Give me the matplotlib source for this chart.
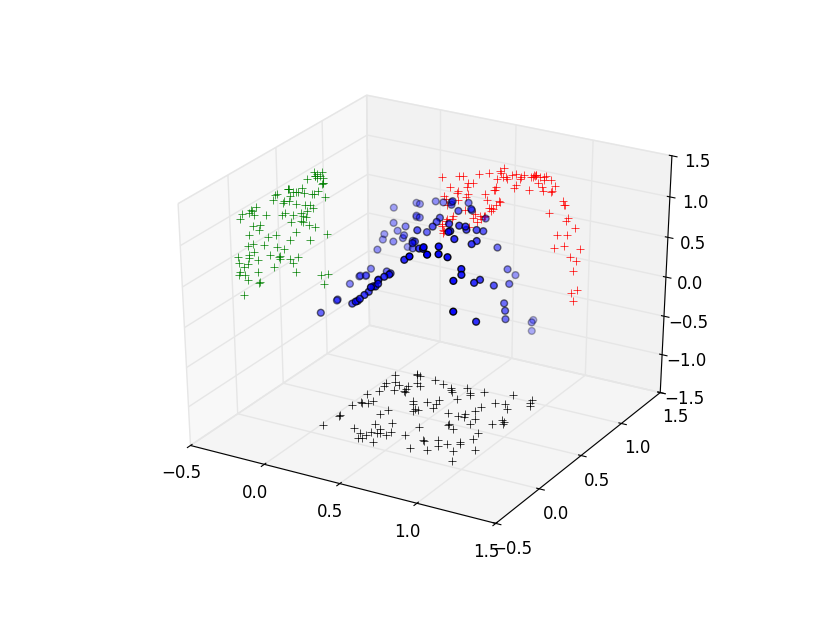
# dome shaped point cloud with its shadows on the three walls
import matplotlib
matplotlib.use("Agg")
import matplotlib.pyplot as plt
from mpl_toolkits.mplot3d import Axes3D

x_vals = [.016, .022, .026, .015, .193, .276, .036, .048, .296, .013, .302, .086, .299, .378, .049, .341, .223, .354, .037, .028,
          .327, .236, .403, .34, .123, .011, .067, .11, .175, .19, .494, .179, .604, .166, .299, .315, .119, .128, .367, .154,
          .222, .625, .618, .705, .375, .446, .257, .438, .692, .734, .42, .324, .398, .761, .559, .637, .409, .834, .901, .639,
          .692, .63, .505, .827, .815, .667, .649, .742, .481, .539, .531, .855, .937, .737, .681, .843, .687, .592, .853, .728,
          .912, .876, .899, .786, .832, .767, .925, .905, .89, .25, .081, .269, .398, .362, .187, .508, .383, .426]
y_vals = [.114, .288, .274, .436, .167, .069, .507, .498, .081, .615, .121, .553, .173, .066, .689, .177, .407, .184, .771, .803,
          .231, .478, .224, .345, .744, .941, .843, .815, .764, .752, .236, .788, .105, .833, .663, .636, 1.016, 1.0, .545, .995,
          .876, .224, .23, .124, .693, .635, .998, .694, .275, .2, .762, .969, .934, .252, .623, .48, .914, .19, .072, .496,
          .449, .613, .824, .292, .312, .619, .662, .557, .984, .912, .934, .387, .267, .624, .722, .476, .789, .987, .619, .883,
          .648, .701, .678, .901, .839, 1.032, .946, .987, 1.031, .133, .507, .276, .178, .58, .898, .376, .571, .897]
z_vals = [-.055, -.017, -.017, .067, .096, .23, .117, .138, .264, .033, .285, .201, .285, .453, .327, .365, .23, .398, .39, .432,
          .398, .285, .503, .403, .419, .66, .56, .499, .47, .52, .713, .6, .894, .306, .558, .491, .533, .726, .642, .726,
          .667, .928, .902, .944, .676, .814, .797, .827, .928, .907, .823, .831, .886, .844, .902, .936, .873, .634, .377, .936,
          .894, .915, .898, .629, .68, .915, .839, .776, .877, .873, .839, .474, .121, .764, .806, .44, .747, .726, .268, .495,
          -.043, -.005, -.177, .235, .117, .058, -.41, -.56, -.46, .18, .15, .265, .508, .635, .66, .755, .789, .936]

x_ticks = [-0.5, 0.0, 0.5, 1.0, 1.5]
y_ticks = [-0.5, 0.0, 0.5, 1.0, 1.5]
z_ticks = [-1.5, -1.0, -0.5, 0.0, 0.5, 1.0, 1.5]

plt.rcParams['font.size'] = 12

fig = plt.figure(figsize=(8.17, 6.17), dpi=100)
ax = fig.add_subplot(111, projection='3d')

# old style axes: the cube is stretched to fill the whole panel
ax.apply_aspect = lambda position=None: None
ax.set_box_aspect((1, 1, 1), zoom=0.9088)
ax.set_position([0.1153, 0.0854, 0.798, 0.828])

ax.scatter(x_vals, y_vals, z_vals, c='b', edgecolors='k', s=24, linewidths=1.0)

# shadows on the walls
ax.plot(x_vals, z_vals, 'r+', zdir='y', zs=1.5, markersize=6, markeredgewidth=0.5)
ax.plot(y_vals, z_vals, 'g+', zdir='x', zs=-0.5, markersize=6, markeredgewidth=0.5)
ax.plot(x_vals, y_vals, 'k+', zdir='z', zs=-1.5, markersize=6, markeredgewidth=0.5)

ax.set_xlim(-0.5, 1.5)
ax.set_ylim(-0.5, 1.5)
ax.set_zlim(-1.5, 1.5)
ax.set_xticks(x_ticks)
ax.set_yticks(y_ticks)
ax.set_zticks(z_ticks)

for axis in (ax.xaxis, ax.yaxis, ax.zaxis):
    axis._axinfo['grid']['color'] = (0.9, 0.9, 0.9, 1)
    axis._axinfo['grid']['linewidth'] = 1.0
    axis.pane.set_edgecolor((0.9, 0.9, 0.9, 1))

fig.savefig('out.png', dpi=100)
